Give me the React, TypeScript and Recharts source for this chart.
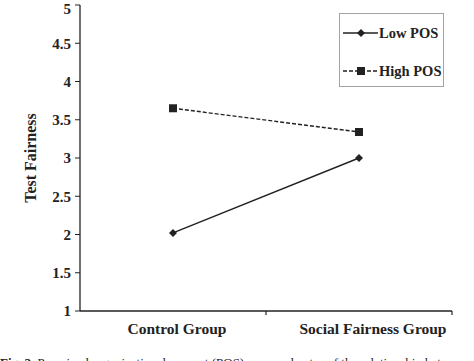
import React from "react";
import { Line, LineChart, XAxis, YAxis } from "recharts";

const groups = ["Control Group", "Social Fairness Group"];
const lowPos = [2.02, 3.0];
const highPos = [3.65, 3.34];
const yTicks = [1, 1.5, 2, 2.5, 3, 3.5, 4, 4.5, 5];

const data = groups.map((group, i) => ({
  group,
  low: lowPos[i],
  high: highPos[i],
}));

const W = 474;
const H = 361;
const margin = { top: 5, right: 22, bottom: 0, left: 0 };
const yAxisWidth = 80;
const halfBand = (W - margin.left - margin.right - yAxisWidth) / groups.length / 2;
// the original labels sit a little right of their points
const labelShift = [4, 14];

const serif = "'Liberation Serif', 'Times New Roman', serif";
const ink = "#222";
const frame = "#a3a3a3";

function Diamond({ cx, cy }: any) {
  if (cx == null || cy == null) return null;
  const r = 4;
  return (
    <path
      d={`M${cx},${cy - r}L${cx + r},${cy}L${cx},${cy + r}L${cx - r},${cy}Z`}
      fill={ink}
    />
  );
}

function Square({ cx, cy }: any) {
  if (cx == null || cy == null) return null;
  return <rect x={cx - 4} y={cy - 4} width={8} height={8} fill={ink} />;
}

function GroupTick({ x, y, payload, index }: any) {
  return (
    <g>
      <line x1={x + halfBand} x2={x + halfBand} y1={y} y2={y + 4} stroke={ink} strokeWidth={1.2} />
      <text
        x={x + (labelShift[index] ?? 0)}
        y={y + 23}
        textAnchor="middle"
        fontFamily={serif}
        fontWeight="bold"
        fontSize={15.5}
        fill={ink}
      >
        {payload.value}
      </text>
    </g>
  );
}

function LegendBox() {
  const rows = [
    { name: "Low POS", dash: undefined, marker: "diamond" },
    { name: "High POS", dash: "4 2", marker: "square" },
  ];
  return (
    <div
      style={{
        position: "absolute",
        left: 339,
        top: 13,
        border: `1px solid ${frame}`,
        width: 105,
        height: 74,
        boxSizing: "border-box",
        background: "#fff",
      }}
    >
      <svg width={103} height={72} style={{ display: "block" }}>
        {rows.map((r, i) => {
          const cy = 19 + i * 38;
          return (
            <g key={r.name}>
              <line x1={3} x2={38} y1={cy} y2={cy} stroke={ink} strokeWidth={1.3} strokeDasharray={r.dash} />
              {r.marker === "diamond" ? <Diamond cx={21} cy={cy} /> : <Square cx={21} cy={cy} />}
              <text
                x={39}
                y={cy + 5}
                fontFamily={serif}
                fontWeight="bold"
                fontSize={14.5}
                fill={ink}
              >
                {r.name}
              </text>
            </g>
          );
        })}
      </svg>
    </div>
  );
}

export default function App() {
  return (
    <div style={{ position: "fixed", left: 0, top: 0, width: W, height: H, background: "#fff", overflow: "hidden" }}>
      <LineChart width={W} height={H} data={data} margin={margin}>
        <XAxis
          dataKey="group"
          scale="band"
          height={50}
          tickSize={0}
          tickMargin={0}
          tick={<GroupTick />}
          axisLine={{ stroke: ink, strokeWidth: 1.3 }}
          interval={0}
        />
        <XAxis xAxisId="top" orientation="top" dataKey="group" scale="band" height={0} tick={false} tickLine={false} axisLine={{ stroke: frame }} />
        <YAxis
          domain={[1, 5]}
          ticks={yTicks}
          width={yAxisWidth}
          tickSize={5}
          tickMargin={4}
          axisLine={{ stroke: ink, strokeWidth: 1.3 }}
          tickLine={{ stroke: ink }}
          tick={{ fontFamily: serif, fontWeight: "bold", fontSize: 15, fill: ink }}
          label={{
            value: "Test Fairness",
            angle: -90,
            position: "insideLeft",
            offset: 30,
            style: { fontFamily: serif, fontWeight: "bold", fontSize: 16, fill: ink, textAnchor: "middle" },
          }}
        />
        <YAxis yAxisId="right" orientation="right" width={0} domain={[1, 5]} tick={false} tickLine={false} axisLine={{ stroke: frame }} />
        <Line
          type="linear"
          dataKey="low"
          name="Low POS"
          stroke={ink}
          strokeWidth={1.4}
          dot={<Diamond />}
          isAnimationActive={false}
        />
        <Line
          type="linear"
          dataKey="high"
          name="High POS"
          stroke={ink}
          strokeWidth={1.4}
          strokeDasharray="4 2"
          dot={<Square />}
          isAnimationActive={false}
        />
      </LineChart>
      <LegendBox />
      <div
        style={{
          position: "absolute",
          left: 0,
          top: 355,
          whiteSpace: "nowrap",
          fontFamily: serif,
          fontSize: 13,
          color: ink,
        }}
      >
        <b>Fig. 2</b>&nbsp;&nbsp;Perceived organizational support (POS) as a moderator of the relationship between
      </div>
    </div>
  );
}
